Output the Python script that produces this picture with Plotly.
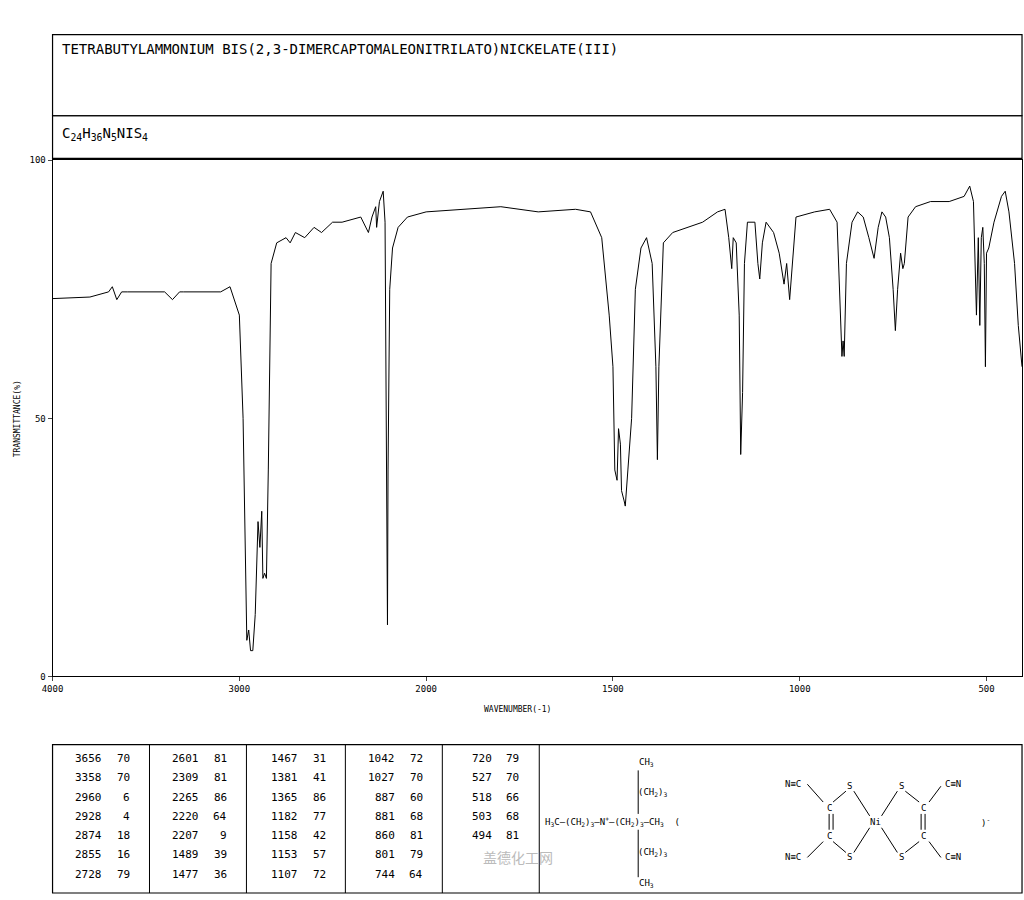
import plotly.graph_objects as go

wn = [4000,3800,3700,3680,3656,3630,3600,3400,3358,3320,3300,3100,3050,3000,2980,2965,2960,2950,2940,2928,2915,2900,2890,2880,2874,2865,2855,2845,2830,2800,2750,2728,2700,2650,2600,2560,2501,2450,2400,2350,2309,2290,2270,2265,2250,2230,2220,2210,2207,2204,2195,2180,2150,2100,2000,1800,1700,1600,1560,1530,1510,1500,1495,1489,1485,1480,1477,1470,1467,1460,1450,1440,1425,1410,1395,1385,1381,1377,1370,1365,1340,1300,1260,1220,1200,1190,1182,1178,1170,1162,1158,1153,1148,1140,1120,1112,1107,1100,1090,1070,1055,1042,1035,1027,1020,1010,960,920,900,890,887,884,881,875,860,845,830,815,801,790,780,770,760,750,744,738,730,724,720,710,690,650,600,560,545,535,530,527,522,518,514,510,506,503,500,494,480,460,450,440,425,415,405]
tr = [73.2,73.5,74.5,75.5,73,74.5,74.5,74.5,73,74.5,74.5,74.5,75.5,70,50,10,7,9,5,5,12,30,25,32,19,20,19,40,80,84,85,84,86,85,87,86,88,88,88.5,89,86,89,91,87,92,94,88,40,10,40,75,83,87,89,90,91,90,90.5,90,85,70,60,40,38,48,45,36,34,33,40,50,75,83,85,80,60,42,60,75,84,86,87,88,90,90.5,85,79,85,84,70,43,55,80,88,88,80,77,84,88,86,82,76,80,73,80,89,90,90.5,88,70,62,65,62,80,88,90,89,85,81,87,90,89,85,75,67,75,82,79,80,89,91,92,92,93,95,92,80,70,85,68,85,87,80,60,82,83,88,93,94,90,80,68,60]

tick_wn = [4000,3000,2000,1500,1000,500]
tick_txt = ["4000","3000","2000","1500","1000","500"]
y_ticks = [0,50,100]

peak_cols = [
    [("3656","70"),("3358","70"),("2960","6"),("2928","4"),("2874","18"),("2855","16"),("2728","79")],
    [("2601","81"),("2309","81"),("2265","86"),("2220","64"),("2207","9"),("1489","39"),("1477","36")],
    [("1467","31"),("1381","41"),("1365","86"),("1182","77"),("1158","42"),("1153","57"),("1107","72")],
    [("1042","72"),("1027","70"),("887","60"),("881","68"),("860","81"),("801","79"),("744","64")],
    [("720","79"),("527","70"),("518","66"),("503","68"),("494","81")],
]

def u(w):
    return (4000 - w) if w >= 2000 else 2000 + (2000 - w) * 2

W, H = 1024, 900
def px(x): return x / W
def py(y): return 1 - y / H

FONT = "DejaVu Sans Mono"
fig = go.Figure()
fig.add_trace(go.Scatter(x=[u(w) for w in wn], y=tr, mode="lines",
                         line=dict(color="black", width=1), showlegend=False))

fig.update_layout(
    width=W, height=H, autosize=False, margin=dict(l=0, r=0, t=0, b=0),
    paper_bgcolor="white", plot_bgcolor="white",
    font=dict(family=FONT, color="black", size=10),
    xaxis=dict(domain=[px(42), px(1022)], range=[0, u(405)], tickvals=[u(w) for w in tick_wn],
               ticktext=tick_txt, ticks="outside", ticklen=4, showgrid=False, zeroline=False,
               showline=True, linecolor="black", mirror=True, tickfont=dict(size=9)),
    yaxis=dict(domain=[py(679), py(157)], range=[0, 100], tickvals=y_ticks, ticks="outside",
               ticklen=4, showgrid=False, zeroline=False, showline=True, linecolor="black",
               mirror=True, tickfont=dict(size=9)),
)

shapes = []
def rect(x0, y0, x1, y1, w=1.2):
    shapes.append(dict(type="rect", xref="paper", yref="paper", x0=px(x0), x1=px(x1),
                       y0=py(y1), y1=py(y0), line=dict(color="black", width=w)))
def line(x0, y0, x1, y1, w=1):
    shapes.append(dict(type="line", xref="paper", yref="paper", x0=px(x0), x1=px(x1),
                       y0=py(y0), y1=py(y1), line=dict(color="black", width=w)))
rect(42, 30, 1022, 112)
rect(42, 112, 1022, 155)
rect(42, 748, 1022, 898)
for xv in [140, 238, 338, 436, 534]:
    line(xv, 748, xv, 898)

ann = []
def text(x, y, s, size=12, anchor="left", **kw):
    ann.append(dict(xref="paper", yref="paper", x=px(x), y=py(y), text=s, showarrow=False,
                    xanchor=anchor, yanchor="middle", font=dict(family=FONT, size=size, color=kw.get("color", "black")),
                    textangle=kw.get("angle", 0)))

text(50, 44, "TETRABUTYLAMMONIUM BIS(2,3-DIMERCAPTOMALEONITRILATO)NICKELATE(III)", 14)
text(50, 130, "C<sub>24</sub>H<sub>36</sub>N<sub>5</sub>NIS<sub>4</sub>", 14)
text(512, 712, "WAVENUMBER(-1)", 8, "center")
text(6, 418, "TRANSMITTANCE(%)", 8, "center", angle=-90)

col_x = [(94, 122), (192, 220), (292, 320), (390, 418), (488, 516)]
for (xa, xb), col in zip(col_x, peak_cols):
    for i, (a, b) in enumerate(col):
        yy = 762 + i * 19.5
        text(xa, yy, a, 11, "right")
        text(xb, yy, b, 11, "right")

# structure (schematic)
S = 9
text(642, 766, "CH<sub>3</sub>", S, "center")
text(648, 796, "(CH<sub>2</sub>)<sub>3</sub>", S, "center")
text(538, 826, "H<sub>3</sub>C—(CH<sub>2</sub>)<sub>3</sub>—N<sup>+</sup>—(CH<sub>2</sub>)<sub>3</sub>—CH<sub>3</sub>  (", S, "left")
text(648, 857, "(CH<sub>2</sub>)<sub>3</sub>", S, "center")
text(642, 888, "CH<sub>3</sub>", S, "center")
line(634, 774, 634, 818)
line(634, 834, 634, 882)
text(790, 788, "N≡C", S, "center"); text(790, 862, "N≡C", S, "center")
text(952, 788, "C≡N", S, "center"); text(952, 862, "C≡N", S, "center")
text(848, 790, "S", S, "center"); text(848, 862, "S", S, "center")
text(900, 790, "S", S, "center"); text(900, 862, "S", S, "center")
text(827, 812, "C", S, "center"); text(827, 840, "C", S, "center")
text(922, 812, "C", S, "center"); text(922, 840, "C", S, "center")
text(874, 826, "Ni", S, "center")
text(985, 826, ")<sup>-</sup>", S, "center")
line(805, 788, 821, 806); line(805, 862, 821, 846)
line(827, 818, 827, 834); line(831, 818, 831, 834)
line(831, 806, 844, 795); line(831, 846, 844, 857)
line(852, 795, 868, 820); line(852, 857, 868, 832)
line(880, 820, 896, 795); line(880, 832, 896, 857)
line(904, 795, 918, 806); line(904, 857, 918, 846)
line(920, 818, 920, 834); line(924, 818, 924, 834)
line(928, 806, 940, 790); line(928, 846, 940, 862)

ann.append(dict(xref="paper", yref="paper", x=px(512), y=py(874), text="盖德化工网", showarrow=False,
                font=dict(family="Noto Sans CJK SC", size=14, color="#bbbbbb")))

fig.update_layout(shapes=shapes, annotations=ann)
fig.write_html("out.html", config={"displayModeBar": False},
               post_script="document.body.style.margin='0';document.body.style.overflow='hidden';")
